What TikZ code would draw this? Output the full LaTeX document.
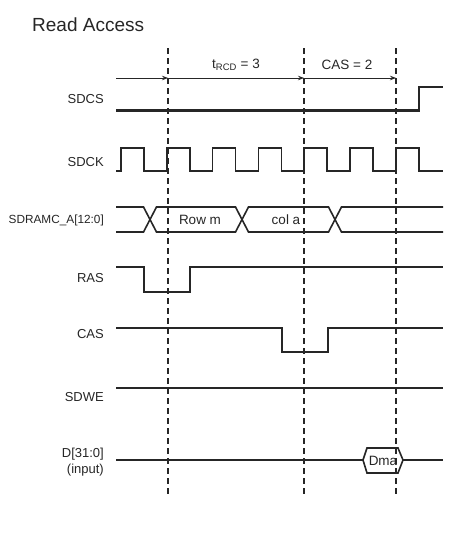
\documentclass[tikz,border=0pt]{standalone}
\usepackage{fontspec}
\setmainfont{Liberation Sans}
\usetikzlibrary{arrows.meta}
\begin{document}
\begin{tikzpicture}[x=1pt,y=-1pt,
  sig/.style={line width=1.6pt, line join=miter, color=black!85},
  thicksig/.style={line width=3pt, color=black!85},
  guide/.style={line width=1.2pt, dash pattern=on 6pt off 4pt, color=black!85},
  lab/.style={anchor=east, align=right, font=\fontsize{13}{15.5}\selectfont, inner sep=0pt, text=black!85},
  txt/.style={font=\fontsize{13.5}{15}\selectfont, inner sep=0pt, text=black!85},
  dim/.style={line width=0.9pt, color=black!85, -{Stealth[length=6pt,width=4.5pt]}}]
\path[use as bounding box] (0,0) rectangle (474,549);

% title
\node[anchor=base west, font=\fontsize{19}{21}\selectfont, inner sep=0pt, text=black!85] (title) at (32,31) {Read Access};

% guide lines
\coordinate (g1t) at (168,48); \coordinate (g1b) at (168,497);
\coordinate (g2t) at (304,48); \coordinate (g2b) at (304,497);
\coordinate (g3t) at (396,48); \coordinate (g3b) at (396,497);
\draw[guide] (g1t) -- (g1b);
\draw[guide] (g2t) -- (g2b);
\draw[guide] (g3t) -- (g3b);

% timing arrows
\coordinate (a0) at (116,78);
\coordinate (a1) at (168,78);
\coordinate (a2) at (304,78);
\coordinate (a3) at (396,78);
\draw[dim] (a0) -- (a1);
\draw[dim] (a1) -- (a2);
\draw[dim] (a2) -- (a3);
\node[txt] (trcd) at (236,65) {t\textsubscript{RCD} = 3};
\node[txt] (cas2) at (347,65) {CAS = 2};

% labels
\node[lab] (lsdcs) at (104,99) {SDCS};
\node[lab] (lsdck) at (104,162) {SDCK};
\node[lab, font=\fontsize{11.8}{14}\selectfont] (laddr) at (104,220) {SDRAMC\_A[12:0]};
\node[lab] (lras) at (104,278) {RAS};
\node[lab] (lcas) at (104,334) {CAS};
\node[lab] (lsdwe) at (104,397) {SDWE};
\node[lab] (ldata) at (104,462) {D[31:0]\\(input)};

% SDCS
\draw[thicksig] (116,110) -- (419,110);
\draw[sig] (419,111.5) -- (419,87) -- (443,87);

% SDCK
\draw[sig] (116,171) foreach \k in {0,...,6} {
  -- ({121+45.8*\k},171) -- ({121+45.8*\k},148) -- ({144+45.8*\k},148) -- ({144+45.8*\k},171)
} -- (443,171);

% SDRAMC_A bus
\draw[sig] (116,207) -- (143.5,207) -- (156.5,232) -- (235.5,232) -- (248.5,207) -- (328.5,207) -- (341.5,232) -- (443,232);
\draw[sig] (116,232) -- (143.5,232) -- (156.5,207) -- (235.5,207) -- (248.5,232) -- (328.5,232) -- (341.5,207) -- (443,207);
\node[txt] (rowm) at (200,220) {Row m};
\node[txt] (cola) at (286,220) {col a};

% RAS
\draw[sig] (116,267) -- (144,267) -- (144,292) -- (190,292) -- (190,267) -- (443,267);

% CAS
\draw[sig] (116,328) -- (282,328) -- (282,352) -- (328,352) -- (328,328) -- (443,328);

% SDWE
\draw[sig] (116,388) -- (443,388);

% D[31:0]
\draw[sig] (116,460) -- (363,460);
\draw[sig] (363,460) -- (367,448) -- (398,448) -- (403,460) -- (398,473) -- (367,473) -- cycle;
\draw[sig] (403,460) -- (443,460);
\node[txt] (dma) at (383,460.5) {Dma};
\end{tikzpicture}
\end{document}
